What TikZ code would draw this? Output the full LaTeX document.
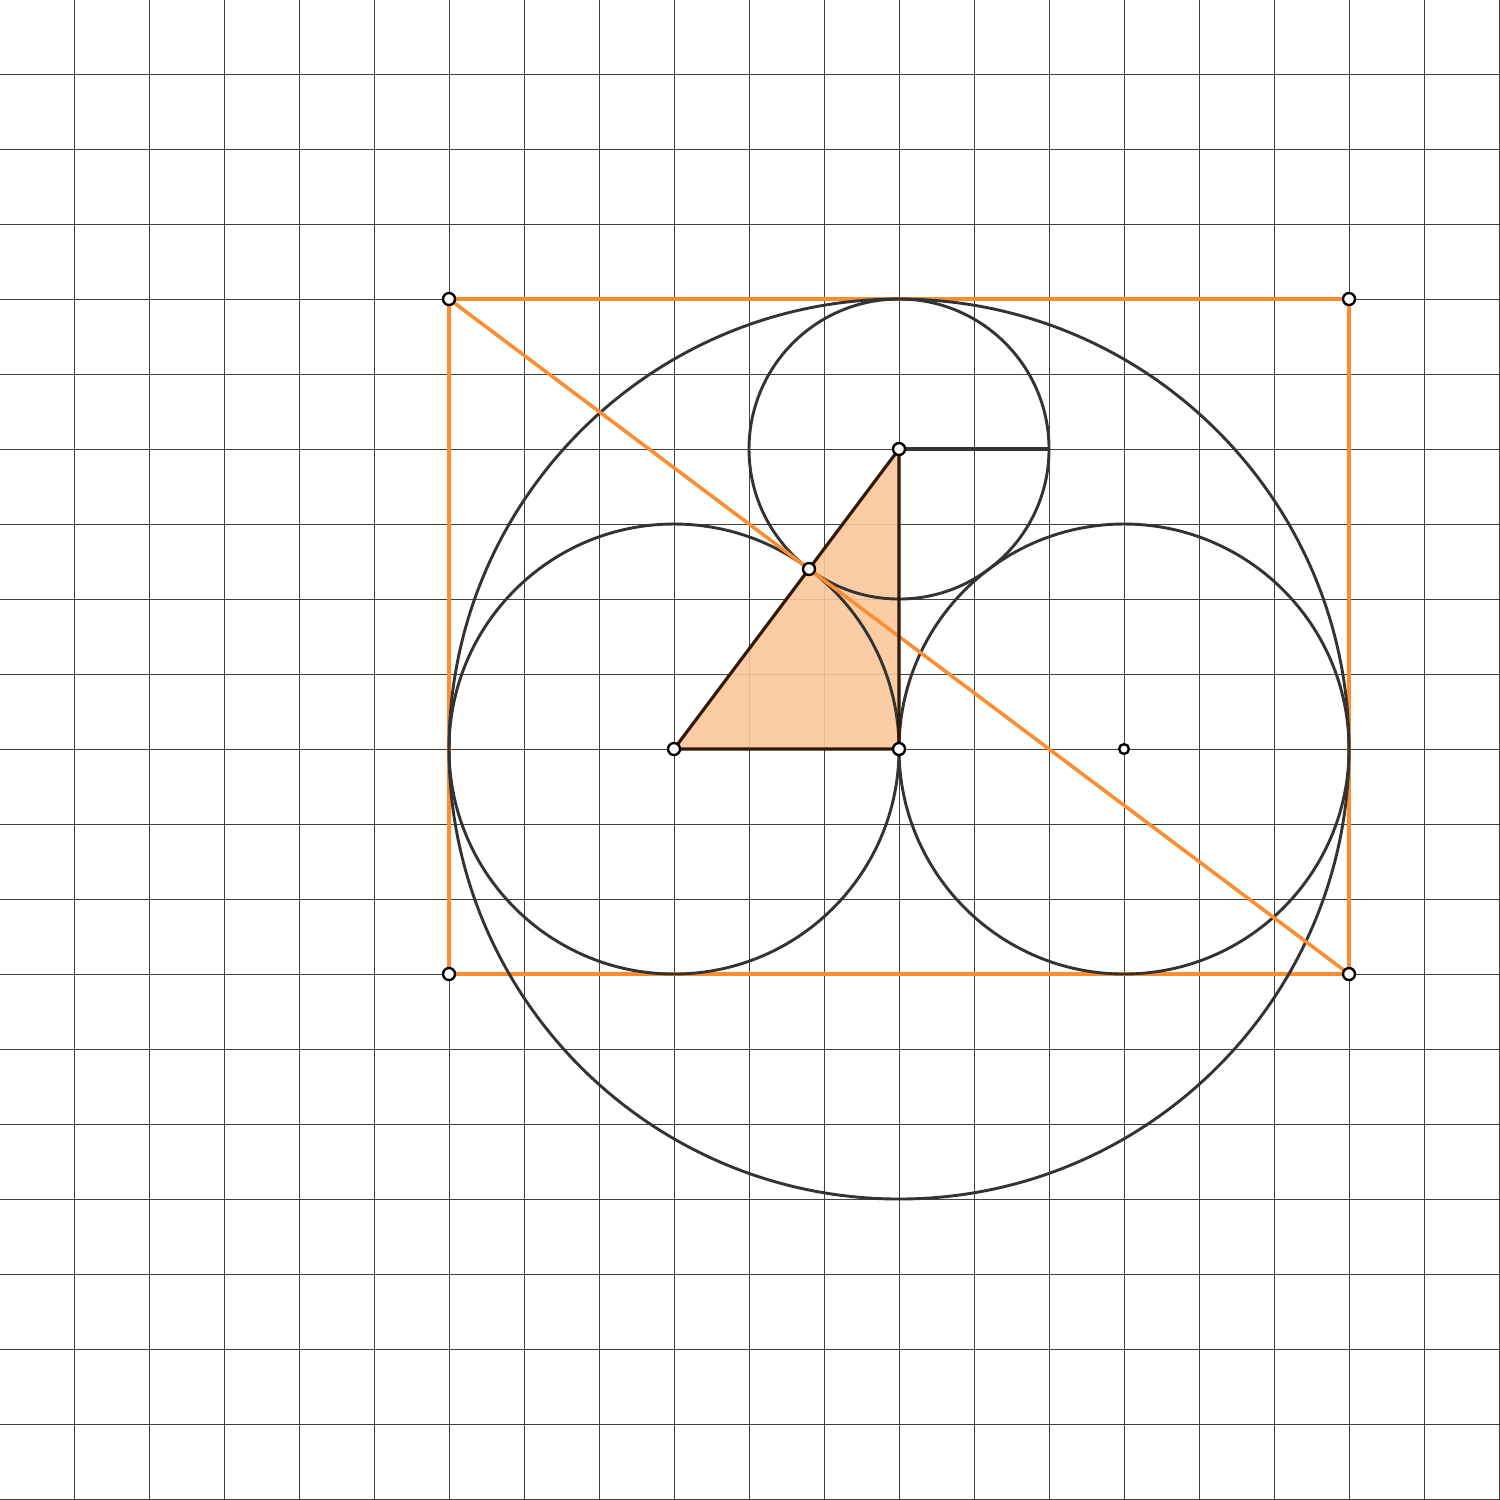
\documentclass[tikz,border=0pt]{standalone}
\definecolor{ggbOrange}{RGB}{255,140,45}
\definecolor{ggbFill}{RGB}{252,200,155}
\definecolor{ggbEdge}{RGB}{50,25,5}
\begin{document}
\begin{tikzpicture}[
  gridline/.style={draw=black!75, line width=0.35pt},
  circ/.style={draw=black!80, line width=1.1pt},
  orangeline/.style={draw=ggbOrange, line width=1.3pt},
  triedge/.style={draw=ggbEdge, line width=1.2pt},
  pt/.style={circle, draw=black, fill=white, line width=0.9pt, inner sep=0pt, minimum size=0.16cm}
]
\useasboundingbox (-11.987,-10.013) rectangle (8.013,9.987);
\fill[white] (-11.987,-10.013) rectangle (8.013,9.987);
\foreach \x in {-11,...,8} \draw[gridline] (\x,-10.013) -- (\x,9.987);
\foreach \y in {-10,...,9} \draw[gridline] (-11.987,\y) -- (8.013,\y);

\coordinate (A) at (-6,6);
\coordinate (B) at (6,6);
\coordinate (C) at (6,-3);
\coordinate (D) at (-6,-3);
\coordinate (O) at (0,0);
\coordinate (L) at (-3,0);
\coordinate (R) at (3,0);
\coordinate (T) at (0,4);
\coordinate (P) at (-1.2,2.4);
\coordinate (E) at (2,4);

\fill[ggbFill, fill opacity=0.9] (L) -- (O) -- (T) -- cycle;

\draw[orangeline] (A) -- (B) -- (C) -- (D) -- cycle;

\draw[circ] (O) circle (6);
\draw[circ] (L) circle (3);
\draw[circ] (R) circle (3);
\draw[circ] (T) circle (2);
\draw[circ, line width=1.3pt] (T) -- (E);

\draw[orangeline] (A) -- (C);
\draw[triedge] (L) -- (O) -- (T) -- cycle;

\node[pt] (nA) at (A) {};
\node[pt] (nB) at (B) {};
\node[pt] (nC) at (C) {};
\node[pt] (nD) at (D) {};
\node[pt] (nO) at (O) {};
\node[pt] (nL) at (L) {};
\node[pt, minimum size=0.13cm] (nR) at (R) {};
\node[pt] (nT) at (T) {};
\node[pt] (nP) at (P) {};
\end{tikzpicture}
\end{document}
